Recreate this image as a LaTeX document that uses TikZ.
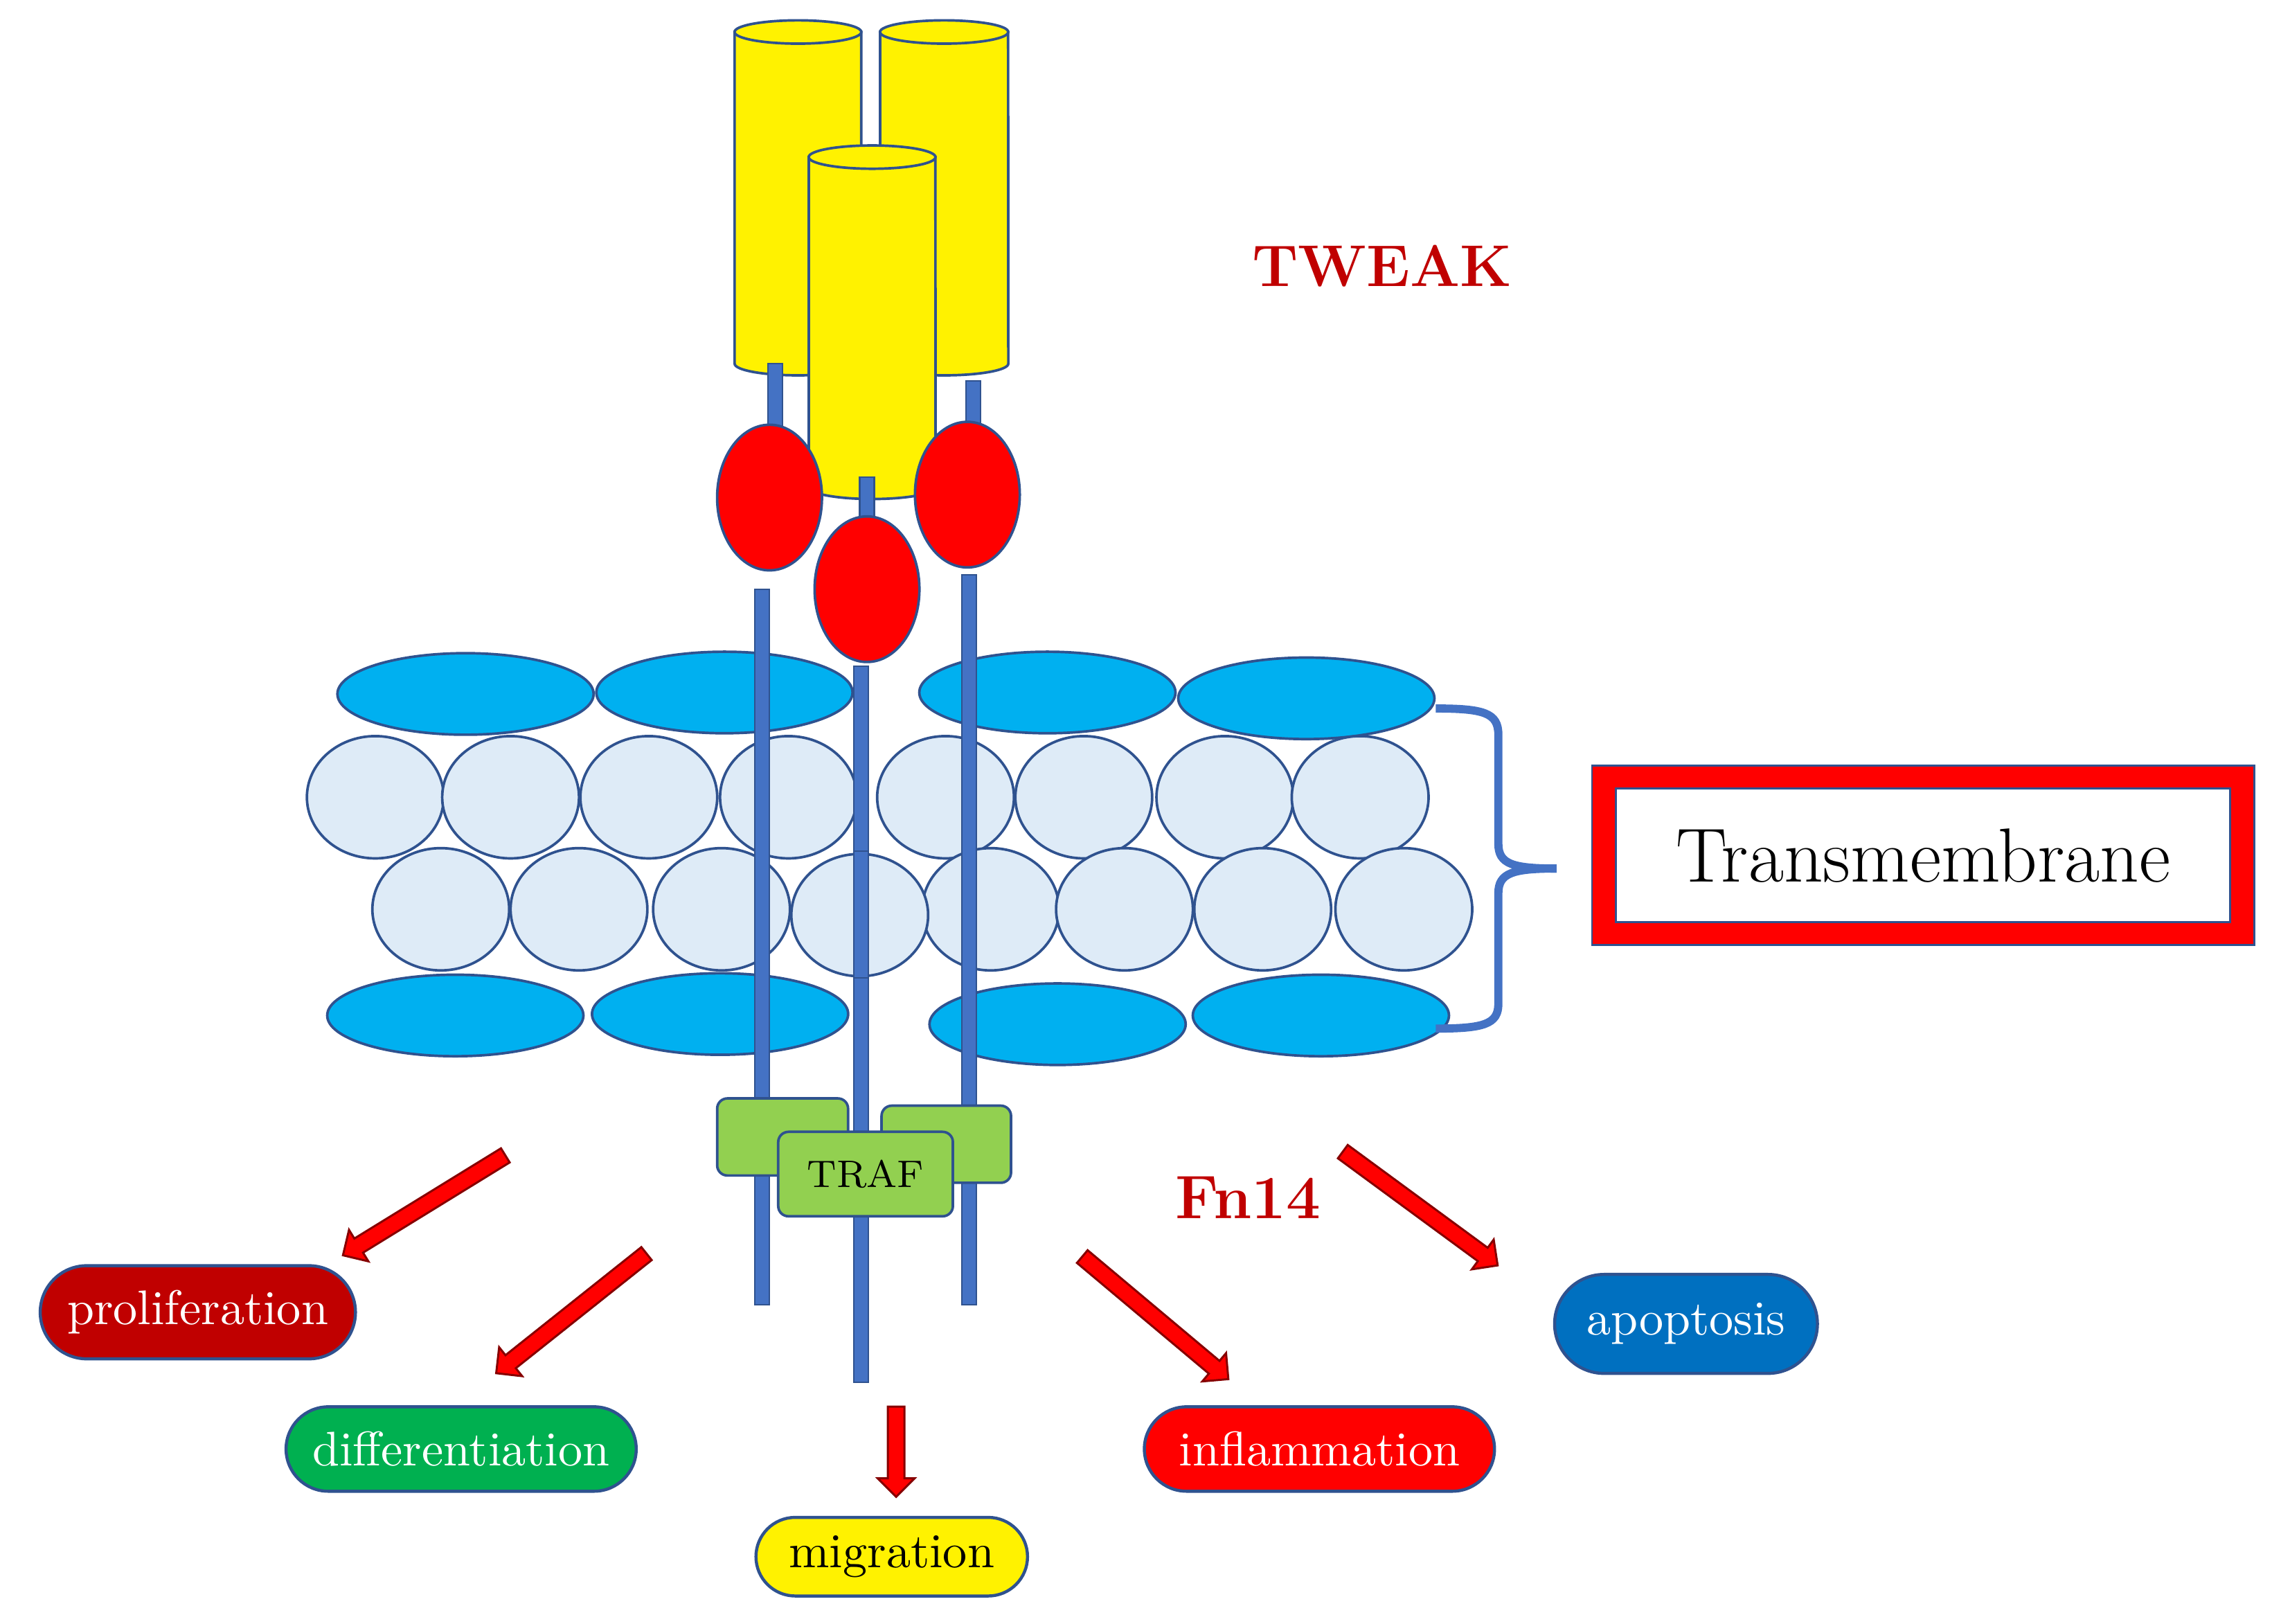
\documentclass[tikz,border=0pt]{standalone}
\usetikzlibrary{shapes.arrows,shapes.misc}
\definecolor{edge}{HTML}{2F528F}
\definecolor{bar}{HTML}{4472C4}
\definecolor{cyanm}{HTML}{00B0F0}
\definecolor{lightc}{HTML}{DEEBF7}
\definecolor{traf}{HTML}{92D050}
\definecolor{dred}{HTML}{C00000}
\definecolor{dgreen}{HTML}{00B050}
\definecolor{dblue}{HTML}{0070C0}
\tikzset{
  cyl/.style={draw=edge,fill=yellow,line width=0.5pt},
  barS/.style={draw=edge,fill=bar,line width=0.3pt},
  redE/.style={draw=edge,fill=red,line width=0.5pt},
  headE/.style={draw=edge,fill=cyanm,line width=0.5pt},
  lipid/.style={draw=edge,fill=lightc,line width=0.5pt},
  trafS/.style={draw=edge,fill=traf,rounded corners=2pt,line width=0.5pt},
  blk/.style={single arrow,draw=dred!70!black,fill=red,inner sep=0.05cm,minimum width=0.24cm,single arrow head extend=0.07cm,line width=0.4pt},
  pill/.style={rounded rectangle,draw=edge,line width=0.6pt,text=white,font=\fontsize{9.5}{11}\selectfont},
}
\newcommand{\mycyl}[4]{% x1 x2 top bottom
  \draw[cyl] (#1,#3) -- (#1,#4) arc[start angle=180,end angle=360,x radius={(#2-#1)*0.005cm},y radius=0.08cm] -- (#2,#3) -- cycle;
  \draw[cyl] ({(#1+#2)/2},#3) ellipse[x radius={(#2-#1)*0.005cm},y radius=0.08cm];}
\begin{document}
\begin{tikzpicture}[x=0.01cm,y=-0.01cm]
\useasboundingbox (0,0) rectangle (1568,1116);
% cylinders
\mycyl{505}{592}{22}{250}
\mycyl{605}{693}{22}{250}
\mycyl{556}{643}{108}{335}
% stems
\draw[barS] (528,250) rectangle (538,295);
\draw[barS] (664,262) rectangle (674,302);
\draw[barS] (591,328) rectangle (601,368);
% red ellipses
\draw[redE] (529,342) ellipse[x radius=0.36cm,y radius=0.5cm];
\draw[redE] (665,340) ellipse[x radius=0.36cm,y radius=0.5cm];
\draw[redE] (596,405) ellipse[x radius=0.36cm,y radius=0.5cm];
% membrane heads
\foreach \x/\y in {320/477,498/476,720/476,898/480,313/698,495/697,727/704,908/698}
  \draw[headE] (\x,\y) ellipse[x radius=0.88cm,y radius=0.28cm];
\foreach \x in {258,351,446,542,650,745,842,935}
  \draw[lipid] (\x,548) ellipse[x radius=0.47cm,y radius=0.42cm];
\foreach \x in {303,398,496,681,773,868,965}
  \draw[lipid] (\x,625) ellipse[x radius=0.47cm,y radius=0.42cm];
% long bars
\draw[barS] (519,405) rectangle (529,897);
\draw[barS] (661,395) rectangle (671,897);
\draw[barS] (587,458) rectangle (597,950);
\draw[lipid] (591,629) ellipse[x radius=0.47cm,y radius=0.42cm];
\draw[barS] (587,585) rectangle (597,672);
% brace
\coordinate (bt) at (987,487);
\coordinate (bb) at (987,707);
\coordinate (btip) at (1070,597);
\draw[bar,line width=1.6pt] (bt) .. controls (1020,487) and (1030,490) .. (1030,505)
  -- (1030,580) .. controls (1030,594) and (1040,597) .. (btip);
\draw[bar,line width=1.6pt] (bb) .. controls (1020,707) and (1030,704) .. (1030,690)
  -- (1030,614) .. controls (1030,600) and (1040,597) .. (btip);
% Transmembrane box
\node[draw=edge,fill=red,minimum width=4.55cm,minimum height=1.23cm,inner sep=0] (tmo) at (1322,588) {};
\node[draw=edge,fill=white,minimum width=4.22cm,minimum height=0.92cm,inner sep=0,font=\fontsize{15}{18}\selectfont] (tm) at (1322,588) {Transmembrane};
% labels
\node[text=dred,font=\fontsize{11.5}{14}\selectfont\bfseries] (tweak) at (950,183) {TWEAK};
\node[text=dred,font=\fontsize{12}{14}\selectfont\bfseries] (fn) at (858,823) {Fn14};
% TRAF
\draw[trafS] (493,755) rectangle (583,808);
\draw[trafS] (606,760) rectangle (695,813);
\node[trafS,minimum width=1.2cm,minimum height=0.58cm,font=\fontsize{7.5}{9}\selectfont] (traf) at (595,807) {TRAF};
% arrows
\node[blk,minimum height=1.31cm,rotate=211.6] (a1) at (294,827) {};
\node[blk,minimum height=1.32cm,rotate=218.5] (a2) at (395,901) {};
\node[blk,minimum height=0.62cm,rotate=270] (a3) at (616,995) {};
\node[blk,minimum height=1.31cm,rotate=-40] (a4) at (792,904) {};
\node[blk,minimum height=1.32cm,rotate=-36.3] (a5) at (974,829) {};
% outcomes
\node[pill,fill=dred,minimum width=2.4cm,minimum height=0.64cm] (p1) at (136,902) {proliferation};
\node[pill,fill=dgreen,minimum width=2.64cm,minimum height=0.58cm] (p2) at (317,996) {differentiation};
\node[pill,fill=yellow,text=black,minimum width=2.1cm,minimum height=0.54cm] (p3) at (613,1070) {migration};
\node[pill,fill=red,minimum width=2.64cm,minimum height=0.58cm] (p4) at (907,996) {inflammation};
\node[pill,fill=dblue,minimum width=2.04cm,minimum height=0.68cm] (p5) at (1159,910) {apoptosis};
\end{tikzpicture}
\end{document}
